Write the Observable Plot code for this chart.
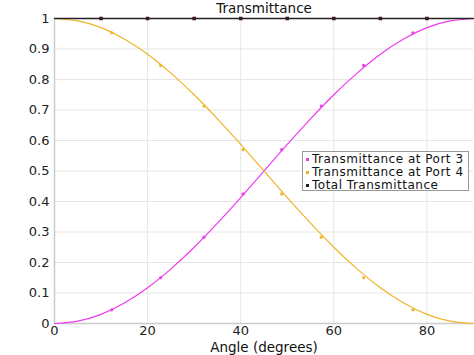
<!DOCTYPE html>
<html>
<head>
<meta charset="utf-8">
<script src="https://cdn.jsdelivr.net/npm/d3@7"></script>
<script src="https://cdn.jsdelivr.net/npm/@observablehq/plot@0.6"></script>
<style>
  html, body { margin: 0; padding: 0; background: #fff; }
  #wrap { position: relative; width: 474px; height: 355px; font-family: "DejaVu Sans", sans-serif; }
  #legend { position: absolute; left: 302px; top: 151px; width: 167px; height: 40px; background: #fff;
            border: 1px solid #999; box-sizing: border-box; font-size: 12px; letter-spacing: 0.5px; color: #111; line-height: 12px; padding-top: 0.5px; }
  #legend .row { display: flex; align-items: center; height: 13px; white-space: nowrap; }
  #legend .mk { display: inline-block; width: 3px; height: 3px; margin: 0 3px 0 3px; }
</style>
</head>
<body>
<div id="wrap"></div>
<script>
// Curve samples (angle in degrees)
const angles = [0,5,10,15,20,25,30,35,40,45,50,55,60,65,70,75,80,85,90];
const port3 = [0, 0.008, 0.030, 0.067, 0.117, 0.179, 0.250, 0.329, 0.413, 0.500, 0.587, 0.671, 0.750, 0.821, 0.883, 0.933, 0.970, 0.992, 1.000];
const port4 = [1.000, 0.992, 0.970, 0.933, 0.883, 0.821, 0.750, 0.671, 0.587, 0.500, 0.413, 0.329, 0.250, 0.179, 0.117, 0.067, 0.030, 0.008, 0];
// Marker positions
const markerAngles = [12.3, 22.8, 32.1, 40.5, 48.8, 57.3, 66.4, 77.0];
const port3Markers = [0.045, 0.150, 0.283, 0.425, 0.570, 0.713, 0.846, 0.953];
const port4Markers = [0.953, 0.846, 0.713, 0.570, 0.425, 0.283, 0.150, 0.045];
const totalAngles = [0, 10, 20, 30, 40, 50, 60, 70, 80, 90];
const totalValues = [1, 1, 1, 1, 1, 1, 1, 1, 1, 1];
const totalMarkerAngles = [10, 20, 30, 40, 50, 60, 70, 80];
const totalMarkerValues = [1, 1, 1, 1, 1, 1, 1, 1];
const yTicks = [0, 0.1, 0.2, 0.3, 0.4, 0.5, 0.6, 0.7, 0.8, 0.9, 1];
const xTicks = [0, 20, 40, 60, 80];
const seriesNames = ["Transmittance at Port 3", "Transmittance at Port 4", "Total Transmittance"];
const seriesColors = ["#ee3bee", "#f0b429", "#222222"];

const p3 = angles.map((a, i) => ({a, v: port3[i]}));
const p4 = angles.map((a, i) => ({a, v: port4[i]}));
const tot = totalAngles.map((a, i) => ({a, v: totalValues[i]}));
const m3 = markerAngles.map((a, i) => ({a, v: port3Markers[i]}));
const m4 = markerAngles.map((a, i) => ({a, v: port4Markers[i]}));
const mt = totalMarkerAngles.map((a, i) => ({a, v: totalMarkerValues[i]}));

const chart = Plot.plot({
  width: 474,
  height: 355,
  marginLeft: 54,
  marginRight: 1,
  marginTop: 18,
  marginBottom: 32,
  style: {fontFamily: "DejaVu Sans, sans-serif", fontSize: "13px", color: "#222", background: "#fff"},
  x: {domain: [0, 90], label: null},
  y: {domain: [0, 1], label: null},
  marks: [
    Plot.gridX(xTicks, {stroke: "#e6e6e6", strokeOpacity: 1}),
    Plot.gridY(yTicks, {stroke: "#e6e6e6", strokeOpacity: 1}),
    Plot.ruleX([0], {stroke: "#cccccc", strokeWidth: 1.5}),
    Plot.ruleY([0], {stroke: "#cccccc", strokeWidth: 1.5}),
    Plot.axisX({ticks: xTicks, tickSize: 0, tickPadding: 2, fontSize: 13, label: null}),
    Plot.axisY({ticks: yTicks, tickSize: 0, tickPadding: 5, fontSize: 13, tickFormat: d => String(d), label: null}),
    Plot.line(p3, {x: "a", y: "v", stroke: seriesColors[0], strokeWidth: 1.2, curve: "natural"}),
    Plot.line(p4, {x: "a", y: "v", stroke: seriesColors[1], strokeWidth: 1.2, curve: "natural"}),
    Plot.line(tot, {x: "a", y: "v", stroke: seriesColors[2], strokeWidth: 1.3}),
    Plot.dot(m3, {x: "a", y: "v", r: 1.6, fill: seriesColors[0], stroke: null}),
    Plot.dot(m4, {x: "a", y: "v", r: 1.6, fill: seriesColors[1], stroke: null}),
    Plot.dot(mt, {x: "a", y: "v", r: 2, symbol: "square", fill: "#3a1a1a", stroke: null}),
    Plot.text(["Transmittance"], {frameAnchor: "top", lineAnchor: "bottom", dy: -6, fontSize: 13.5, fill: "#111"}),
    Plot.text(["Angle (degrees)"], {frameAnchor: "bottom", lineAnchor: "bottom", dy: 28, fontSize: 13.5, fill: "#111"})
  ]
});

const wrap = document.getElementById("wrap");
wrap.appendChild(chart);

const legend = document.createElement("div");
legend.id = "legend";
seriesNames.forEach((name, i) => {
  const row = document.createElement("div");
  row.className = "row";
  const mk = document.createElement("span");
  mk.className = "mk";
  mk.style.background = seriesColors[i];
  const tx = document.createElement("span");
  tx.textContent = name;
  row.appendChild(mk);
  row.appendChild(tx);
  legend.appendChild(row);
});
wrap.appendChild(legend);
</script>
</body>
</html>
